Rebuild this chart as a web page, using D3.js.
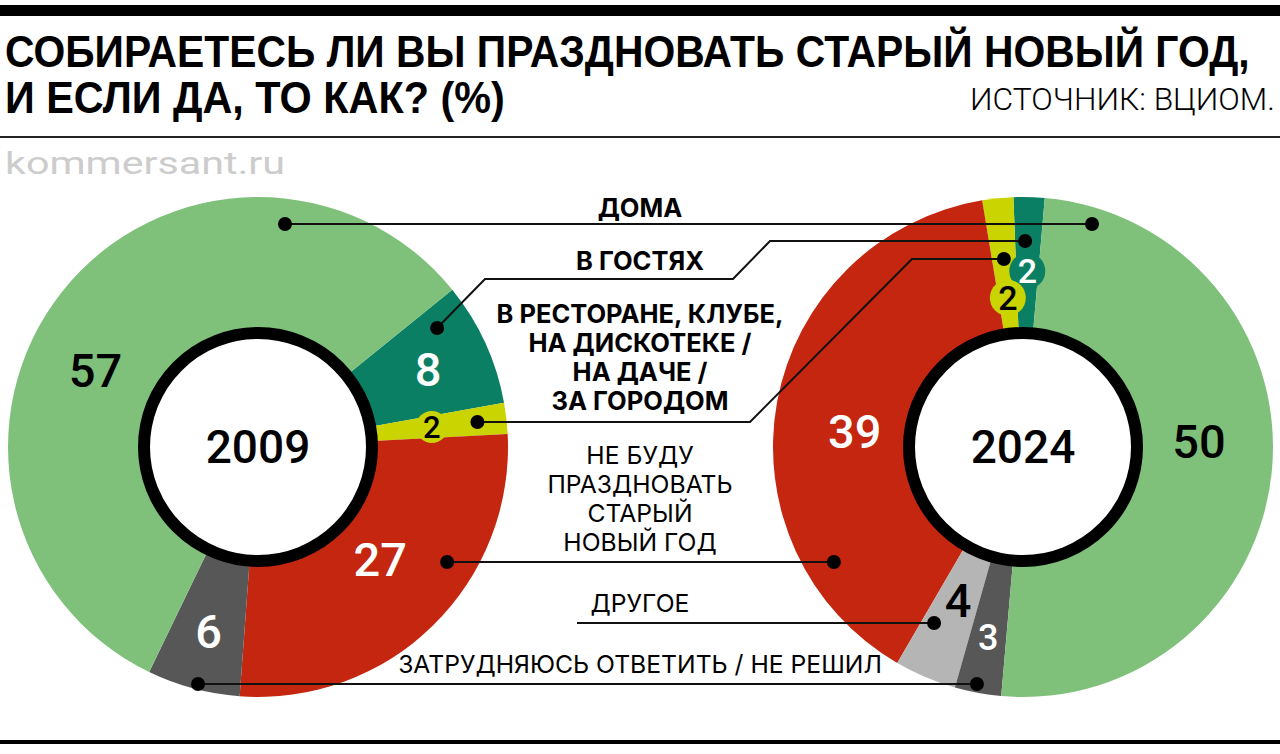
<!DOCTYPE html>
<html>
<head>
<meta charset="utf-8">
<script src="https://cdn.jsdelivr.net/npm/d3@7"></script>
<style>
  body { margin: 0; background: #fff; }
  svg { display: block; }
</style>
</head>
<body>
<svg width="1280" height="754"></svg>
<script>
// data
var categories = ['В гостях', 'Ресторан', 'Не буду', 'Другое', 'Затрудняюсь', 'Дома'];
var values2009 = [8, 2, 27, 0, 6, 57];
var values2024 = [2, 2, 39, 4, 3, 50];
var years = ['2009', '2024'];

var colors = {
    'Дома': '#7fc07b',
    'В гостях': '#0b7f64',
    'Ресторан': '#c9d400',
    'Не буду': '#c4260f',
    'Другое': '#b5b5b5',
    'Затрудняюсь': '#575757'
};
var textColor = {
    'Дома': '#000', 'В гостях': '#fff', 'Ресторан': '#000',
    'Не буду': '#fff', 'Другое': '#000', 'Затрудняюсь': '#fff'
};

var svg = d3.select('svg');
var W = 1280, R = 250, cy = 447;

// squeeze a text horizontally to a given width (condensed headline look)
function fitText(sel, x, y, width, anchor) {
    var natural = sel.node().getComputedTextLength();
    var k = width / natural;
    var x0 = anchor === 'end' ? x - width : x;
    sel.attr('x', 0).attr('y', 0)
        .attr('transform', 'translate(' + x0 + ',' + y + ') scale(' + k + ',1)');
}

// title block
svg.append('rect').attr('x', 0).attr('y', 5).attr('width', W).attr('height', 11).attr('fill', '#000');
var headFont = 'bold 44px "Liberation Sans Narrow", "Liberation Sans", sans-serif';
var t1 = svg.append('text').style('font', headFont)
    .text('СОБИРАЕТЕСЬ ЛИ ВЫ ПРАЗДНОВАТЬ СТАРЫЙ НОВЫЙ ГОД,');
fitText(t1, 5, 67, 1245);
var t2 = svg.append('text').style('font', headFont)
    .text('И ЕСЛИ ДА, ТО КАК? (%)');
fitText(t2, 5, 113, 500);
var t3 = svg.append('text').style('font', '300 31px Roboto, sans-serif')
    .text('ИСТОЧНИК: ВЦИОМ.');
fitText(t3, 1275, 110, 305, 'end');
svg.append('rect').attr('x', 0).attr('y', 136).attr('width', W).attr('height', 2).attr('fill', '#222');
svg.append('text')
    .attr('x', 5).attr('y', 174)
    .attr('textLength', 280).attr('lengthAdjust', 'spacingAndGlyphs')
    .style('font', '32px Roboto, sans-serif')
    .style('fill', '#cccccc')
    .text('kommersant.ru');
svg.append('rect').attr('x', 0).attr('y', 740).attr('width', W).attr('height', 4).attr('fill', '#000');

// pies: left one clockwise, right one mirrored (counter-clockwise)
var deg = Math.PI / 180;
var pies = [
    {year: years[0], values: values2009, cx: 258, start: 51, end: 411},
    {year: years[1], values: values2024, cx: 1023, start: 5, end: -355}
];
var arc = d3.arc().innerRadius(0).outerRadius(R);

// label radius / angle shift per category and pie (annotation layout)
var labelR = [
    {'Дома': 180, 'В гостях': 187, 'Ресторан': 175, 'Не буду': 166, 'Затрудняюсь': 191},
    {'Дома': 176, 'В гостях': 176, 'Ресторан': 150, 'Не буду': 169, 'Другое': 166, 'Затрудняюсь': 193}
];
var labelShift = [{'Дома': -13, 'Не буду': -3}, {'Дома': -7, 'Не буду': -5}];

function polar(cx, a, r) {
    return [cx + r * Math.sin(a), cy - r * Math.cos(a)];
}

pies.forEach(function(p) {
    var pie = d3.pie().sort(null).value(d => d.v)
        .startAngle(p.start * deg).endAngle(p.end * deg);
    var arcs = pie(categories.map((c, i) => ({cat: c, v: p.values[i]})));
    svg.append('g')
        .attr('transform', 'translate(' + p.cx + ',' + cy + ')')
        .selectAll('path').data(arcs.filter(d => d.data.v > 0))
        .enter().append('path')
        .attr('d', arc)
        .attr('fill', d => colors[d.data.cat]);
    p.arcs = arcs;
});

// inner rings with the year
pies.forEach(function(p) {
    svg.append('circle').attr('cx', p.cx).attr('cy', cy).attr('r', 114)
        .attr('fill', '#fff').attr('stroke', '#000').attr('stroke-width', 12);
    svg.append('text').attr('x', p.cx).attr('y', cy + 16)
        .attr('text-anchor', 'middle')
        .style('font', '500 46px Roboto, sans-serif')
        .text(p.year);
});

// leader lines (annotation layout); dots sit on the ray of the given angle
function onRay(cx, aDeg, y) {
    return [cx + (cy - y) * Math.tan(aDeg * deg), y];
}
var L = pies[0].cx, Rc = pies[1].cx;
var leaders = [
    {pts: [onRay(L, 6.9, 224), onRay(Rc, 17.2, 224)], dots: [0, 1]},
    {pts: [onRay(L, 56.4, 328), [485, 279], [733, 279], [770, 241], onRay(Rc, 0.6, 241)], dots: [0, 4]},
    {pts: [onRay(L, 83.5, 422), [750, 422], [912, 259], onRay(Rc, -5.8, 259)], dots: [0, 3]},
    {pts: [onRay(L, 121.3, 562), onRay(Rc, 238.7, 562)], dots: [0, 1]},
    {pts: [[577, 623], onRay(Rc, 206.8, 623)], dots: [1]},
    {pts: [onRay(L, 194.2, 684), onRay(Rc, 191, 684)], dots: [0, 1]}
];
leaders.forEach(function(l) {
    svg.append('path').attr('d', d3.line()(l.pts))
        .attr('fill', 'none').attr('stroke', '#111').attr('stroke-width', 2);
    l.dots.forEach(function(k) {
        svg.append('circle').attr('cx', l.pts[k][0]).attr('cy', l.pts[k][1]).attr('r', 7).attr('fill', '#000');
    });
});

// category captions
var boldFont = '700 25.5px Inter, "Liberation Sans", sans-serif';
var regFont = '400 24.7px Inter, "Liberation Sans", sans-serif';
var captions = [
    {lines: ['ДОМА'], y: 217, font: boldFont},
    {lines: ['В ГОСТЯХ'], y: 270, font: boldFont},
    {lines: ['В РЕСТОРАНЕ, КЛУБЕ,', 'НА ДИСКОТЕКЕ /', 'НА ДАЧЕ /', 'ЗА ГОРОДОМ'], y: 323, font: boldFont},
    {lines: ['НЕ БУДУ', 'ПРАЗДНОВАТЬ', 'СТАРЫЙ', 'НОВЫЙ ГОД'], y: 464, font: regFont},
    {lines: ['ДРУГОЕ'], y: 612, font: regFont},
    {lines: ['ЗАТРУДНЯЮСЬ ОТВЕТИТЬ / НЕ РЕШИЛ'], y: 673, font: regFont}
];
captions.forEach(function(c) {
    c.lines.forEach(function(t, i) {
        svg.append('text').attr('x', 640).attr('y', c.y + i * 29)
            .attr('text-anchor', 'middle').style('font', c.font).text(t);
    });
});

// value labels
pies.forEach(function(p, pi) {
    p.arcs.filter(d => d.data.v > 0).forEach(function(d) {
        var c = d.data.cat;
        var a = (d.startAngle + d.endAngle) / 2 + (labelShift[pi][c] || 0) * deg;
        var pos = polar(p.cx, a, labelR[pi][c]);
        var small = d.data.v <= 2;
        if (small) {
            svg.append('circle').attr('cx', pos[0]).attr('cy', pos[1])
                .attr('r', pi === 0 ? 16 : 18).attr('fill', colors[c]);
        }
        var size = small ? (pi === 0 ? 31 : 34) : (c === 'Затрудняюсь' && pi === 1 ? 36 : 47);
        svg.append('text').attr('x', pos[0]).attr('y', pos[1] + size * 0.36)
            .attr('text-anchor', 'middle')
            .style('font', '500 ' + size + 'px Roboto, sans-serif')
            .style('fill', textColor[c])
            .text(d.data.v);
    });
});
</script>
</body>
</html>
